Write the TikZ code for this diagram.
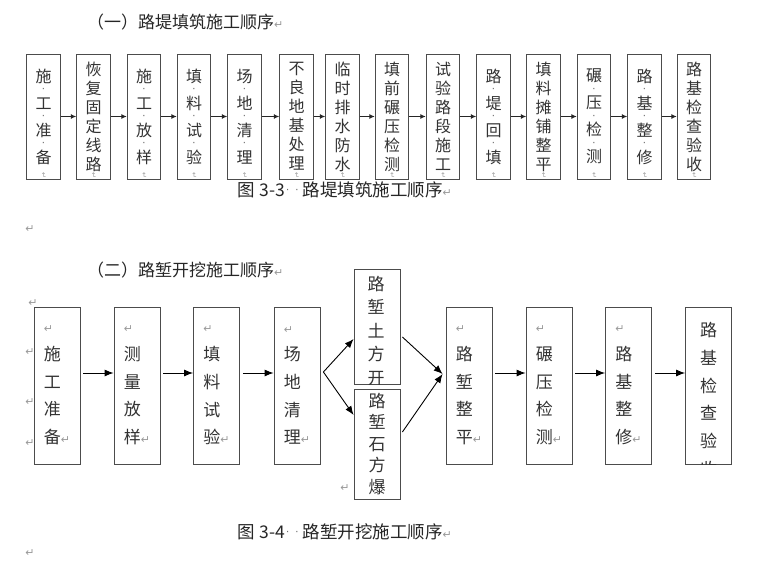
\documentclass[tikz,border=0pt]{standalone}
\usepackage{fontspec}
\setmainfont{Noto Sans CJK SC}
\newfontfamily\arrowfont{DejaVu Sans}
\usetikzlibrary{arrows.meta}
\newcommand{\retmark}{\textcolor{black!40}{\arrowfont\fontsize{11}{11}\selectfont ↵}}
\newcommand{\sepdot}{\raisebox{3pt}{\textcolor{black!60}{\arrowfont\fontsize{10}{10}\selectfont ·}}}
\AtBeginDocument{\setlength{\lineskiplimit}{-30pt}}

\begin{document}
\begin{tikzpicture}[x=1pt,y=-1pt,
  tbox/.style={draw=black!70,line width=0.8pt,minimum width=33.5pt,minimum height=125pt,
    inner sep=0pt,align=center,text=black!80,font=\fontsize{16}{13.5}\selectfont,
    label={[anchor=south,inner sep=1pt,text=black!40,font=\arrowfont\fontsize{7}{7}\selectfont]south:\rotatebox{-90}{↵}}},
  tsix/.style={font=\fontsize{16}{19}\selectfont},
  kbox/.style={draw=black!70,line width=0.8pt,minimum width=46pt,minimum height=157pt,
    inner sep=0pt,align=left,text=black!80,font=\fontsize{17}{27.7}\selectfont},
  tarr/.style={draw=black!85,line width=1.2pt,-{Latex[length=5.5pt,width=5pt]}},
  karr/.style={draw=black,line width=0.9pt,-{Latex[length=9pt,width=7pt]}},
  note/.style={inner sep=0pt,anchor=west,text=black!85,font=\fontsize{17}{20}\selectfont}]
  \fill[white] (0,0) rectangle (760,560);
  % 上段：路堤填筑の見出し
  \node[note] (title1) at (87,22) {（一）路堤填筑施工顺序\retmark};
  % 上段の箱（14個）
  \node[tbox] (f1) at (43.5,116.5) {施\\\sepdot\\工\\\sepdot\\准\\\sepdot\\备};
  \node[tbox,tsix] (f2) at (93.5,116.5) {恢\\复\\固\\定\\线\\路};
  \node[tbox] (f3) at (144,116.5) {施\\\sepdot\\工\\\sepdot\\放\\\sepdot\\样};
  \node[tbox] (f4) at (194,116.5) {填\\\sepdot\\料\\\sepdot\\试\\\sepdot\\验};
  \node[tbox] (f5) at (244.5,116.5) {场\\\sepdot\\地\\\sepdot\\清\\\sepdot\\理};
  \node[tbox,tsix] (f6) at (296.5,116.5) {不\\良\\地\\基\\处\\理};
  \node[tbox,tsix] (f7) at (342.5,116.5) {临\\时\\排\\水\\防\\水};
  \node[tbox,tsix] (f8) at (392,116.5) {填\\前\\碾\\压\\检\\测};
  \node[tbox,tsix] (f9) at (443,116.5) {试\\验\\路\\段\\施\\工};
  \node[tbox] (f10) at (493.5,116.5) {路\\\sepdot\\堤\\\sepdot\\回\\\sepdot\\填};
  \node[tbox,tsix] (f11) at (543.5,116.5) {填\\料\\摊\\铺\\整\\平};
  \node[tbox] (f12) at (594,116.5) {碾\\\sepdot\\压\\\sepdot\\检\\\sepdot\\测};
  \node[tbox] (f13) at (644.5,116.5) {路\\\sepdot\\基\\\sepdot\\整\\\sepdot\\修};
  \node[tbox,tsix] (f14) at (694,116.5) {路\\基\\检\\查\\验\\收};
  % 上段の矢印
  \draw[tarr] (f1) -- (f2);
  \draw[tarr] (f2) -- (f3);
  \draw[tarr] (f3) -- (f4);
  \draw[tarr] (f4) -- (f5);
  \draw[tarr] (f5) -- (f6);
  \draw[tarr] (f6) -- (f7);
  \draw[tarr] (f7) -- (f8);
  \draw[tarr] (f8) -- (f9);
  \draw[tarr] (f9) -- (f10);
  \draw[tarr] (f10) -- (f11);
  \draw[tarr] (f11) -- (f12);
  \draw[tarr] (f12) -- (f13);
  \draw[tarr] (f13) -- (f14);
  \node[note,font=\fontsize{17.5}{20}\selectfont] (cap1) at (237,190)
    {图\hspace{5pt}3-3\hspace{1pt}\sepdot\hspace{6pt}\sepdot\hspace{4pt}路堤填筑施工顺序\retmark};
  \node[inner sep=0pt] (r0) at (30,229) {\retmark};
  % 下段：路堑开挖の見出し
  \node[note] (title2) at (87,270) {（二）路堑开挖施工顺序\retmark};
  % 左端の改行記号
  \node[inner sep=0pt] (r1) at (33,303) {\retmark};
  \node[inner sep=0pt] (r2) at (30,352) {\retmark};
  \node[inner sep=0pt] (r3) at (30,402) {\retmark};
  \node[inner sep=0pt] (r4) at (30,443) {\retmark};
  % 下段の箱
  \node[kbox] (k1) at (57,385.5) {\retmark\\施\\工\\准\\备\retmark};
  \node[kbox] (k2) at (137,385.5) {\retmark\\测\\量\\放\\样\retmark};
  \node[kbox] (k3) at (216.5,385.5) {\retmark\\填\\料\\试\\验\retmark};
  \node[kbox] (k4) at (297,385.5) {\retmark\\场\\地\\清\\理\retmark};
  \node[kbox,minimum height=115pt] (kt) at (377,326.5) {};
  \begin{scope}
    \clip (kt.north west) rectangle (kt.south east);
    \node[inner sep=0pt,align=center,text=black!80,font=\fontsize{17}{23.5}\selectfont]
      (kttext) at (376,331) {路\\堑\\土\\方\\开};
  \end{scope}
  \node[kbox,minimum height=110pt,align=center,font=\fontsize{17}{21.5}\selectfont]
    (ks) at (377,444) {路\\堑\\石\\方\\爆};
  \node[inner sep=0pt] (r5) at (345,488) {\retmark};
  \node[kbox] (k5) at (469,385.5) {\retmark\\路\\堑\\整\\平\retmark};
  \node[kbox] (k6) at (549,385.5) {\retmark\\碾\\压\\检\\测\retmark};
  \node[kbox] (k7) at (628.5,385.5) {\retmark\\路\\基\\整\\修\retmark};
  \node[kbox] (k8) at (708.5,385.5) {};
  \begin{scope}
    \clip (k8.north west) rectangle (k8.south east);
    \node[inner sep=0pt,align=center,text=black!80,font=\fontsize{17}{27.7}\selectfont]
      (k8text) at (708.5,399.5) {路\\基\\检\\查\\验\\收};
  \end{scope}
  % 下段の矢印（分岐と合流を含む）
  \draw[karr] ([xshift=3pt,yshift=12.5pt]k1.east) -- ([yshift=12.5pt]k2.west);
  \draw[karr] ([xshift=3pt,yshift=12.5pt]k2.east) -- ([yshift=12.5pt]k3.west);
  \draw[karr] ([xshift=3pt,yshift=12.5pt]k3.east) -- ([yshift=12.5pt]k4.west);
  \draw[karr] ([xshift=3pt,yshift=13.5pt]k4.east) -- ([yshift=-12.5pt]kt.west);
  \draw[karr] ([xshift=3pt,yshift=13.5pt]k4.east) -- ([yshift=29pt]ks.west);
  \draw[karr] ([xshift=2pt,yshift=-10.5pt]kt.east) -- ([xshift=-3pt,yshift=11.5pt]k5.west);
  \draw[karr] ([xshift=2pt,yshift=12pt]ks.east) -- ([xshift=-3pt,yshift=11.5pt]k5.west);
  \draw[karr] ([xshift=3pt,yshift=12.5pt]k5.east) -- ([yshift=12.5pt]k6.west);
  \draw[karr] ([xshift=3pt,yshift=12.5pt]k6.east) -- ([yshift=12.5pt]k7.west);
  \draw[karr] ([xshift=3pt,yshift=12.5pt]k7.east) -- ([yshift=12.5pt]k8.west);
  \node[note,font=\fontsize{17.5}{20}\selectfont] (cap2) at (237,532)
    {图\hspace{5pt}3-4\hspace{1pt}\sepdot\hspace{6pt}\sepdot\hspace{4pt}路堑开挖施工顺序\retmark};
  \node[inner sep=0pt] (r6) at (30,553) {\retmark};
\end{tikzpicture}
\end{document}
